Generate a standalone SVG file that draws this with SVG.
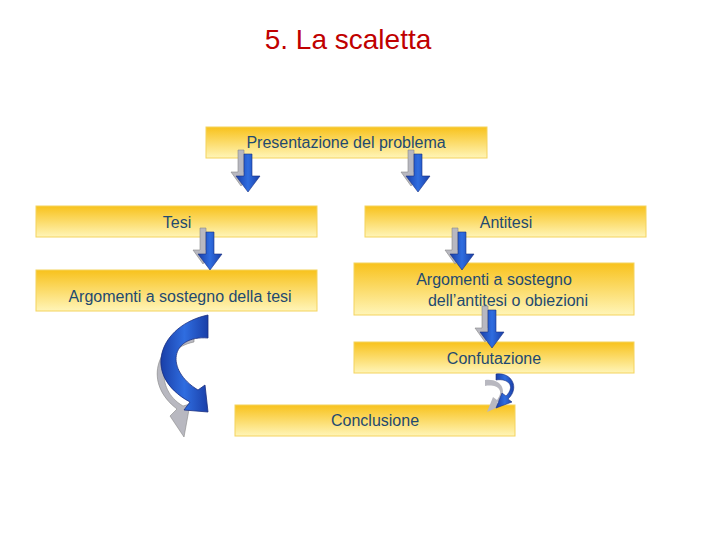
<svg xmlns="http://www.w3.org/2000/svg" width="720" height="540" viewBox="0 0 720 540">
<defs>
<linearGradient id="g" x1="0" y1="0" x2="0" y2="1"><stop offset="0" stop-color="#f8c21c"/><stop offset="1" stop-color="#fff5b8"/></linearGradient>
<linearGradient id="b" x1="0" y1="0" x2="1" y2="0"><stop offset="0" stop-color="#1a3fa8"/><stop offset="0.5" stop-color="#2f6de0"/><stop offset="1" stop-color="#1a3fa8"/></linearGradient>
<g id="dn"><path d="M-6,-10 h6 v22 h7 l-10,14 l-10,-14 h7 z" fill="#b8b8c0" stroke="#888" stroke-width="0.6"/><path d="M0,-6 h8 v22 h8 l-12,16 l-12,-16 h8 z" fill="url(#b)" stroke="#1a2f80" stroke-width="0.6"/></g>
</defs>
<style>.box{fill:url(#g);stroke:#f4d35e;stroke-width:1}.t{font-family:"Liberation Sans",Arial,sans-serif;font-size:16px;fill:#1f4a70;text-anchor:middle}</style>
<text x="348" y="49" font-family="Liberation Sans,Arial,sans-serif" font-size="28" fill="#c00000" text-anchor="middle">5. La scaletta</text>
<g id="n1"><rect class="box" x="206" y="127" width="281" height="31"/><text class="t" x="346" y="148">Presentazione del problema</text></g>
<g id="n2"><rect class="box" x="36" y="206" width="281" height="31"/><text class="t" x="177" y="228">Tesi</text></g>
<g id="n3"><rect class="box" x="365" y="206" width="281" height="31"/><text class="t" x="506" y="228">Antitesi</text></g>
<g id="n4"><rect class="box" x="36" y="270" width="281" height="41"/><text class="t" x="180" y="302">Argomenti a sostegno della tesi</text></g>
<g id="n5"><rect class="box" x="354" y="263" width="280" height="52"/><text class="t" x="494" y="285">Argomenti a sostegno</text><text class="t" x="508" y="306">dell’antitesi o obiezioni</text></g>
<g id="n6"><rect class="box" x="354" y="342" width="280" height="31"/><text class="t" x="494" y="364">Confutazione</text></g>
<g id="n7"><rect class="box" x="235" y="405" width="280" height="31"/><text class="t" x="375" y="426">Conclusione</text></g>
<g id="connectors">
<use href="#dn" x="244" y="160"/>
<use href="#dn" x="414" y="160"/>
<use href="#dn" x="206" y="238"/>
<use href="#dn" x="458" y="238"/>
<use href="#dn" x="488" y="316"/>
<path d="M200,328 C160,340 150,380 183,405 L176,412 L190,433 L196,400 L189,402 C160,385 165,345 200,338 Z" fill="#b8b8c0" stroke="#888" stroke-width="0.6" transform="translate(-6,4)"/>
<path d="M208,315 C160,325 140,375 190,402 L184,410 L208,412 L205,385 L198,390 C165,370 170,335 208,338 Z" fill="url(#b)" stroke="#1a2f80" stroke-width="0.8"/>
<path d="M488,384 C500,382 508,388 500,398 L496,395 L490,410 L504,404 L500,401 C512,390 505,376 488,378 Z" fill="#b8b8c0" transform="translate(-3,2)"/>
<path d="M496,380 C508,378 516,386 506,396 L502,393 L496,408 L512,402 L508,399 C520,388 512,372 496,374 Z" fill="url(#b)" stroke="#1a2f80" stroke-width="0.6"/>
</g>
</svg>
